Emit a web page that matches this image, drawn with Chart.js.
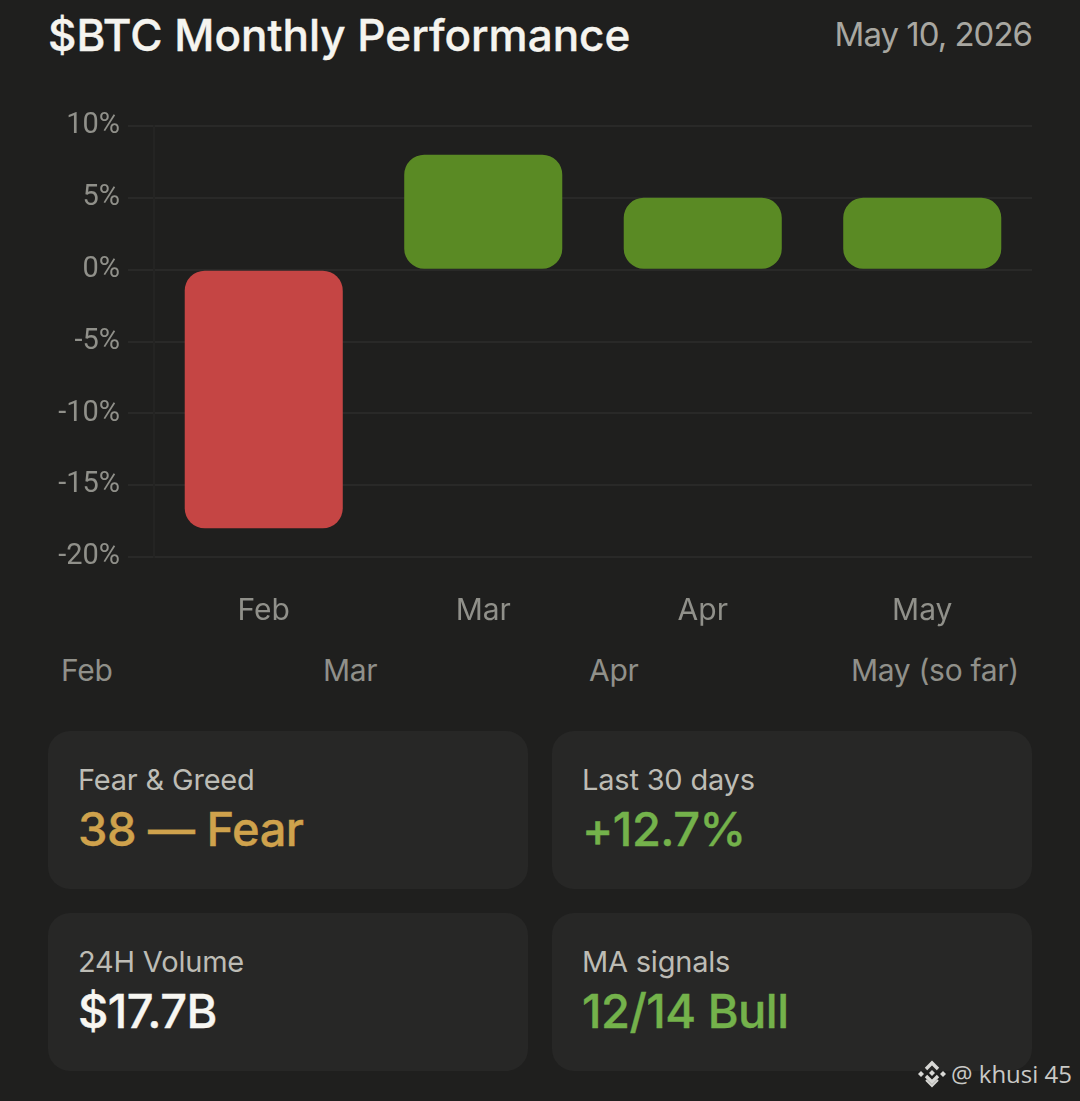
<!DOCTYPE html>
<html>
<head>
<meta charset="utf-8">
<title>$BTC Monthly Performance</title>
<script src="https://cdn.jsdelivr.net/npm/chart.js@4"></script>
<style>
  html, body { margin: 0; padding: 0; background: #1f1f1e; }
  body { position: relative; width: 1080px; height: 1101px; overflow: hidden; font-family: Inter, sans-serif; }
  .abs { position: absolute; white-space: nowrap; line-height: 1; }
  #title { left: 48px; top: 13px; font-size: 44px; font-weight: 500; color: #f5f4ef; letter-spacing: 0; -webkit-text-stroke: 0.4px #f5f4ef; }
  #date { right: 48px; top: 18px; font-size: 33px; color: #a8a7a1; letter-spacing: -1px; }
  #chart-box { position: absolute; left: 0; top: 100px; width: 1032px; height: 530px; }
  .month { top: 655px; font-size: 30px; color: #90908a; letter-spacing: -0.3px; }
  .card { position: absolute; width: 480px; height: 158px; border-radius: 22px; background: #272726; }
  .card .label { position: absolute; left: 30px; top: 34px; font-size: 29px; line-height: 1; color: #bdbcb5; letter-spacing: -0.2px; white-space: nowrap; }
  .card .value { position: absolute; left: 30px; top: 74px; font-size: 47px; line-height: 1; font-weight: 500; letter-spacing: -0.5px; white-space: nowrap; -webkit-text-stroke: 0.4px; }
  #mark { right: 8px; top: 1060px; font-family: "Open Sans", sans-serif; font-size: 24px; color: #c9c9c6; display: flex; align-items: center; gap: 5px; }
</style>
</head>
<body>
<div class="abs" id="title">$BTC Monthly Performance</div>
<div class="abs" id="date">May 10, 2026</div>
<div id="chart-box"><canvas id="chart"></canvas></div>
<div class="abs month" style="left:61px">Feb</div>
<div class="abs month" style="left:323px">Mar</div>
<div class="abs month" style="left:589px">Apr</div>
<div class="abs month" style="right:61px">May (so far)</div>

<div class="card" style="left:48px;top:731px"><div class="label">Fear &amp; Greed</div><div class="value" style="color:#cfa24c">38 — Fear</div></div>
<div class="card" style="left:552px;top:731px"><div class="label">Last 30 days</div><div class="value" style="color:#74b24b">+12.7%</div></div>
<div class="card" style="left:48px;top:913px"><div class="label">24H Volume</div><div class="value" style="color:#f7f6f1">$17.7B</div></div>
<div class="card" style="left:552px;top:913px"><div class="label">MA signals</div><div class="value" style="color:#74b24b">12/14 Bull</div></div>

<div class="abs" id="mark">
  <svg width="28" height="28" viewBox="0 0 28 28" fill="none" stroke="#d8d8d5" stroke-width="3.4">
    <path d="M8 9 L14 3 L20 9"/><path d="M8 16 L14 22 L20 16"/><path d="M8 20 L14 26 L20 20" stroke-width="2"/>
    <path d="M0 14 L3 11 L6 14 L3 17 Z" fill="#d8d8d5" stroke-width="0"/>
    <path d="M22 14 L25 11 L28 14 L25 17 Z" fill="#d8d8d5" stroke-width="0"/>
    <path d="M11 13 L14 10 L17 13 L14 16 Z" fill="#d8d8d5" stroke-width="0"/>
  </svg>
  <span>@ khusi 45</span>
</div>

<script>
const months = ["Feb", "Mar", "Apr", "May"];
const performance = [-18, 8, 5, 5];
const barColors = ["#c54544", "#5a8a24", "#5a8a24", "#5a8a24"];
const yTicks = [10, 5, 0, -5, -10, -15, -20];

// Render the chart
const ctx = document.getElementById("chart").getContext("2d");
new Chart(ctx, {
  type: "bar",
  data: {
    labels: months,
    datasets: [{
      data: performance,
      backgroundColor: barColors,
      borderRadius: 20,
      borderSkipped: false,
      barPercentage: 0.72,
      categoryPercentage: 1
    }]
  },
  options: {
    responsive: true,
    maintainAspectRatio: false,
    animation: false,
    layout: { padding: { top: 26, left: 0, right: 0, bottom: 0 } },
    plugins: { legend: { display: false }, tooltip: { enabled: false } },
    scales: {
      x: {
        grid: { display: false },
        border: { display: false },
        afterFit: axis => { axis.height = 73; },
        ticks: { color: "#90908a", padding: 28, font: { family: "Inter", size: 30 } }
      },
      y: {
        min: -20,
        max: 10,
        afterFit: axis => { axis.width = 154; },
        afterBuildTicks: axis => { axis.ticks = yTicks.map(value => ({ value })); },
        grid: { color: "#292928", lineWidth: 2, tickColor: "#292928", tickLength: 26 },
        border: { color: "#242423", width: 2 },
        ticks: {
          color: "#90908a",
          padding: 8,
          font: { family: "Roboto", size: 29 },
          callback: value => `${value}%`
        }
      }
    }
  }
});
</script>
</body>
</html>
